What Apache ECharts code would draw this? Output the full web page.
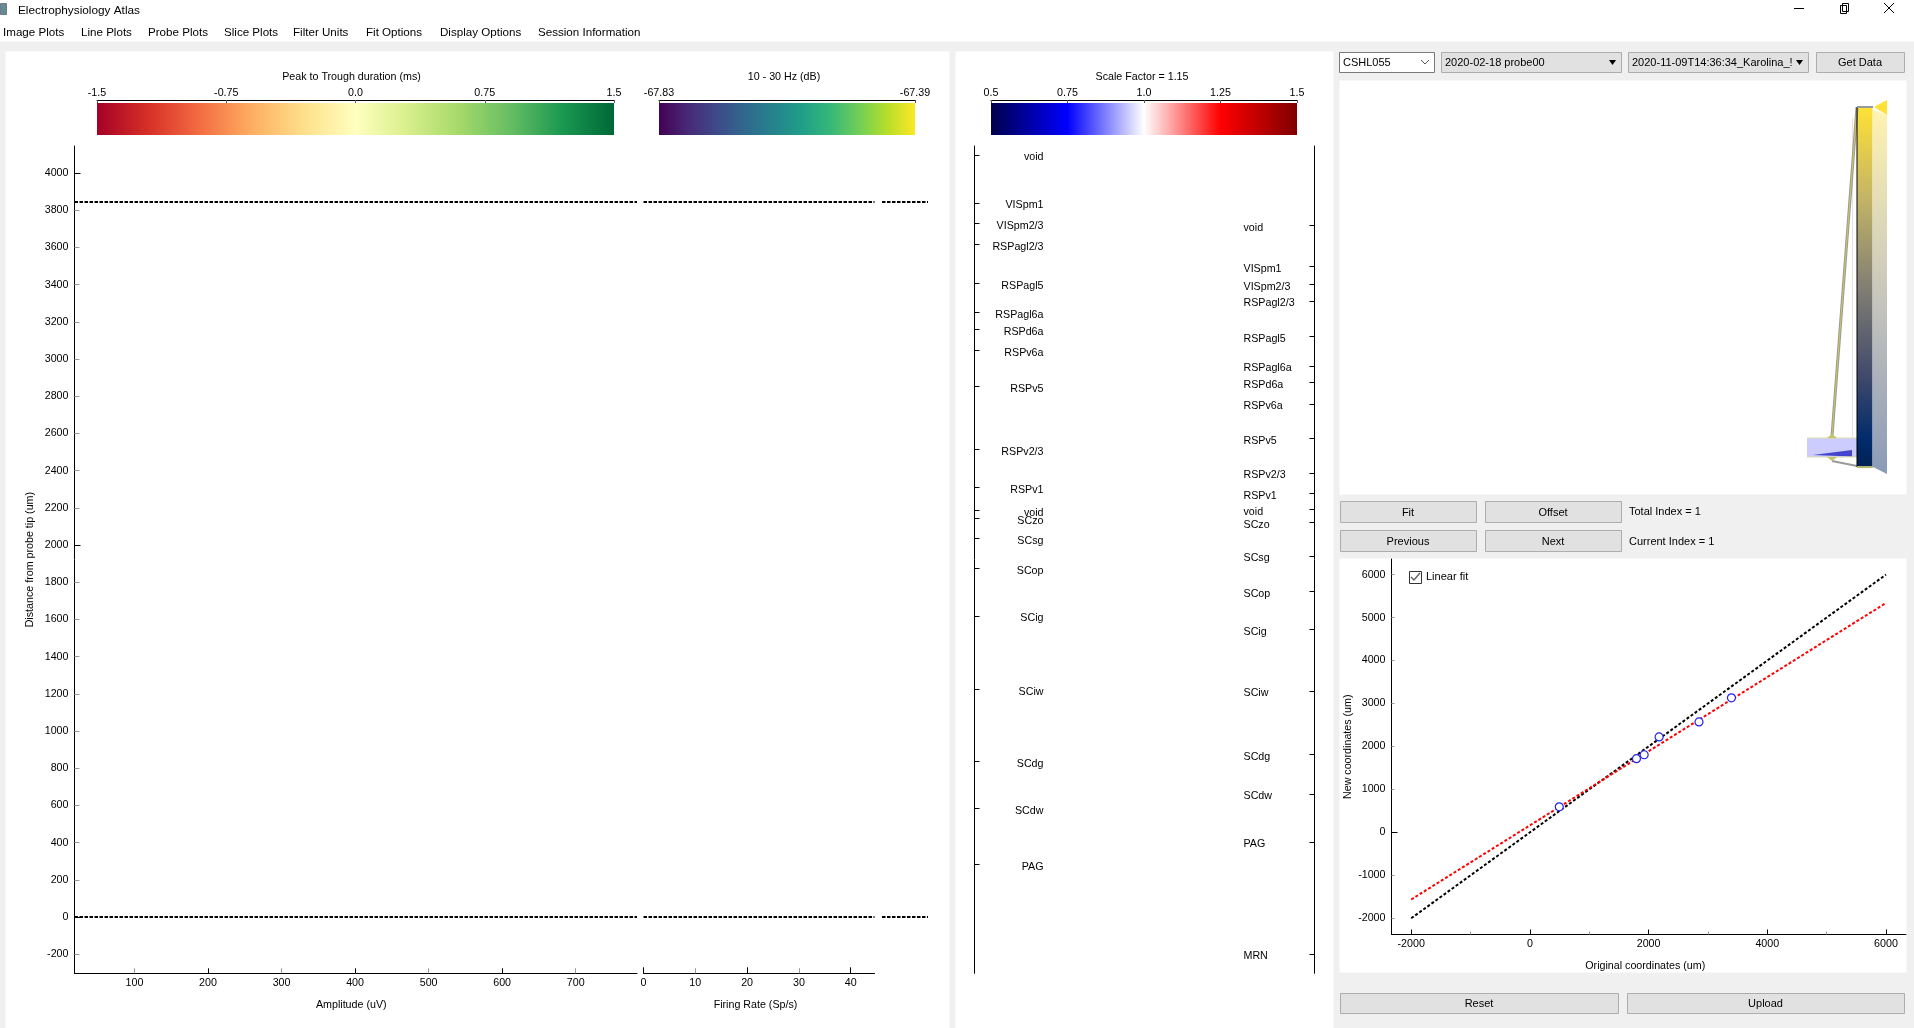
<!DOCTYPE html>
<html>
<head>
<meta charset="utf-8">
<title>Electrophysiology Atlas</title>
<style>
  html, body { margin: 0; padding: 0; background: #f0f0f0; overflow: hidden; }
  #chart { width: 1914px; height: 1028px; }
</style>
<script src="https://cdn.jsdelivr.net/npm/echarts@6/dist/echarts.min.js"></script>
</head>
<body>
<div id="chart"></div>
<script>
  "use strict";
  // colour bar ticks
  var peakTicks = [-1.5, -0.75, 0, 0.75, 1.5];
  var peakTickLabels = ['-1.5', '-0.75', '0.0', '0.75', '1.5'];
  var powerTicks = [-67.83, -67.39];
  var powerTickLabels = ['-67.83', '-67.39'];
  var scaleTicks = [0.5, 0.75, 1, 1.25, 1.5];
  var scaleTickLabels = ['0.5', '0.75', '1.0', '1.25', '1.5'];
  var rdYlGn = ['#a50026', '#d73027', '#f46d43', '#fdae61', '#fee08b', '#ffffbf', '#d9ef8b', '#a6d96a', '#66bd63', '#1a9850', '#006837'];
  var viridis = ['#440154', '#482878', '#3e4989', '#31688e', '#26828e', '#1f9e89', '#35b779', '#6ece58', '#b5de2b', '#fde725'];
  var seismic = ['#00004c', '#0000ff', '#ffffff', '#ff0000', '#7f0000'];

  // depth axis and the two probe ends (dashed lines)
  var depthLabels = [-200, 0, 200, 400, 600, 800, 1000, 1200, 1400, 1600, 1800, 2000, 2200, 2400, 2600, 2800, 3000, 3200, 3400, 3600, 3800, 4000];
  var depthMajor = [0, 2000, 4000];
  var probeEnds = [0, 3844];
  var ampLabels = [100, 200, 300, 400, 500, 600, 700];
  var ampMajor = [200, 400, 600];
  var rateLabels = [0, 10, 20, 30, 40];
  var rateMajor = [0, 20, 40];

  // brain regions, original (left) and scaled (right)
  var origRegions = ['void', 'VISpm1', 'VISpm2/3', 'RSPagl2/3', 'RSPagl5', 'RSPagl6a', 'RSPd6a', 'RSPv6a', 'RSPv5', 'RSPv2/3', 'RSPv1', 'void', 'SCzo', 'SCsg', 'SCop', 'SCig', 'SCiw', 'SCdg', 'SCdw', 'PAG'];
  var origDepths = [4097, 3839, 3730, 3617, 3407, 3249, 3160, 3047, 2853, 2515, 2310, 2187, 2144, 2036, 1875, 1618, 1224, 837, 584, 283];
  var fitRegions = ['void', 'VISpm1', 'VISpm2/3', 'RSPagl2/3', 'RSPagl5', 'RSPagl6a', 'RSPd6a', 'RSPv6a', 'RSPv5', 'RSPv2/3', 'RSPv1', 'void', 'SCzo', 'SCsg', 'SCop', 'SCig', 'SCiw', 'SCdg', 'SCdw', 'PAG', 'MRN'];
  var fitDepths = [3719, 3498, 3402, 3312, 3122, 2962, 2875, 2758, 2574, 2387, 2278, 2192, 2122, 1941, 1751, 1547, 1215, 875, 661, 403, -199];

  // fit plot
  var lineX = [-2000, 6000];
  var identityY = [-2000, 6000];
  var fitY = [-1562, 5339];
  var refX = [495, 1795, 1925, 2177, 2849, 3396];
  var refY = [594, 1716, 1807, 2221, 2570, 3132];
  var fitXLabels = [-2000, 0, 2000, 4000, 6000];
  var fitXMinor = [-1000, 1000, 3000, 5000];
  var fitYLabels = [-2000, -1000, 0, 1000, 2000, 3000, 4000, 5000, 6000];
  var fitYMajor = [0];
  var fitYMinor = [-2000, -1000, 1000, 2000, 3000, 4000, 5000, 6000];

  var FONT = 'Liberation Sans';
  var DEPTH_MIN = -302.7;
  var DEPTH_MAX = 4145;
  var PLOT_TOP = 146;
  var PLOT_H = 827.3;

  var textStyle = { color: '#000', fontFamily: FONT, fontSize: 10.7 };
  var black = { color: '#000', width: 1 };

  function without(list, drop) {
    return list.filter(function (v) { return drop.indexOf(v) < 0; });
  }
  function zip(a, b) {
    return a.map(function (v, i) { return [v, b[i]]; });
  }
  function lookup(values, labels) {
    return function (v) { return labels[values.indexOf(v)]; };
  }
  function plain(v) {
    return String(v);
  }

  function hiddenAxis(gridIndex, min, max) {
    return { show: false, type: 'value', gridIndex: gridIndex, min: min, max: max };
  }

  // colour bar scale sits on top of the bar
  function barAxis(gridIndex, ticks, labels, min, max, title, shift) {
    return {
      type: 'value', gridIndex: gridIndex, position: 'top', offset: 3, min: min, max: max,
      name: title, nameLocation: 'middle', nameGap: 17,
      nameTextStyle: Object.assign({ padding: shift }, textStyle),
      splitLine: { show: false },
      axisLine: { onZero: false, lineStyle: black },
      axisTick: { inside: true, length: 3, customValues: ticks, lineStyle: { color: '#555' } },
      axisLabel: Object.assign({ margin: 1, customValues: ticks, formatter: lookup(ticks, labels), showMinLabel: true, showMaxLabel: true }, textStyle)
    };
  }

  // one axis with labels and the dark ticks
  function tickAxis(position, gridIndex, min, max, labels, major, len) {
    return {
      type: 'value', gridIndex: gridIndex, position: position, min: min, max: max,
      splitLine: { show: false },
      axisLine: { show: true, onZero: false, lineStyle: black },
      axisTick: { show: true, inside: true, length: len, customValues: major, lineStyle: black },
      axisLabel: Object.assign({ margin: 4, customValues: labels, formatter: plain, showMinLabel: true, showMaxLabel: true }, textStyle)
    };
  }

  // same scale again, only for the grey ticks
  function minorAxis(position, gridIndex, min, max, minor, len) {
    return {
      type: 'value', gridIndex: gridIndex, position: position, min: min, max: max,
      splitLine: { show: false },
      axisLine: { show: false, onZero: false },
      axisTick: { show: true, inside: true, length: len, customValues: minor, lineStyle: { color: '#999', width: 1 } },
      axisLabel: { show: false }
    };
  }

  // region names hang slightly below their tick
  function regionAxis(position, values, labels, margin, align) {
    return {
      type: 'value', gridIndex: 6, position: position, min: DEPTH_MIN, max: DEPTH_MAX,
      splitLine: { show: false },
      axisLine: { show: true, onZero: false, lineStyle: black },
      axisTick: { show: true, inside: true, length: 5, customValues: values, lineStyle: black },
      axisLabel: Object.assign({ inside: true, margin: margin, align: align, verticalAlign: 'top', lineHeight: 5, customValues: values, formatter: lookup(values, labels), showMinLabel: true, showMaxLabel: true }, textStyle)
    };
  }

  function colourBar(index, colours, range) {
    var stops = colours.map(function (c, i) { return { offset: i / (colours.length - 1), color: c }; });
    return {
      type: 'custom', xAxisIndex: index, yAxisIndex: index, silent: true,
      data: [range], encode: { x: [0, 1] },
      renderItem: function (params, api) {
        var a = api.coord([api.value(0), 0]);
        var b = api.coord([api.value(1), 1]);
        return {
          type: 'rect',
          shape: { x: a[0], y: b[1], width: b[0] - a[0], height: a[1] - b[1] },
          style: { fill: new echarts.graphic.LinearGradient(0, 0, 1, 0, stops) }
        };
      }
    };
  }

  function probeLines(xIndex, yIndex) {
    return {
      type: 'line', xAxisIndex: xIndex, yAxisIndex: yIndex, data: [], silent: true,
      markLine: {
        silent: true, symbol: 'none', animation: false, label: { show: false },
        lineStyle: { color: '#000', width: 2, type: [3.5, 1.5], opacity: 1 },
        data: probeEnds.map(function (v) { return { yAxis: v }; })
      }
    };
  }

  function fitLine(ys, colour) {
    return {
      type: 'line', xAxisIndex: 9, yAxisIndex: 9, data: zip(lineX, ys), symbol: 'none', silent: true,
      lineStyle: { color: colour, width: 2, type: [3, 2] }
    };
  }

  // window chrome helpers
  function box(x, y, w, h, fill, stroke) {
    return { type: 'rect', z: -5, shape: { x: x + 0.5, y: y + 0.5, width: w, height: h }, style: { fill: fill, stroke: stroke || null, lineWidth: 1 } };
  }
  function txt(x, y, text, align, size) {
    return { type: 'text', z: 5, x: x, y: y + 1, style: { text: text, x: 0, y: 0, fill: '#000', font: (size || 11) + 'px "' + FONT + '"', align: align || 'left', verticalAlign: 'middle' } };
  }
  function button(x, y, w, h, text) {
    return [box(x, y, w, h, '#e1e1e1', '#adadad'), txt(x + w / 2, y + h / 2, text, 'center')];
  }
  function seg(x1, y1, x2, y2, colour, width) {
    return { type: 'line', z: 5, shape: { x1: x1, y1: y1, x2: x2, y2: y2 }, style: { stroke: colour, lineWidth: width || 1 } };
  }
  function poly(points, fill, z) {
    return { type: 'polygon', z: z || 3, shape: { points: points }, style: { fill: fill } };
  }
  function path(points, colour, width) {
    return { type: 'polyline', z: 4, shape: { points: points }, style: { stroke: colour, lineWidth: width, fill: null } };
  }

  var menus = [['Image Plots', 3], ['Line Plots', 81], ['Probe Plots', 148], ['Slice Plots', 224], ['Filter Units', 293], ['Fit Options', 366], ['Display Options', 440], ['Session Information', 538]];

  function vGradient(stops) {
    return new echarts.graphic.LinearGradient(0, 0, 0, 1, stops);
  }

  var chrome = [
    box(-1, -1, 1916, 42, '#fff'),
    box(5, 51, 944, 978, '#fff'),
    box(955, 51, 378, 978, '#fff'),
    box(1339, 80, 567, 414, '#fff'),
    box(1339, 558, 567, 414, '#fff'),
    box(0, 3, 6, 11, '#5f8f93', '#778'),
    txt(18, 10, 'Electrophysiology Atlas', 'left', 11.8),
    seg(1794, 8.5, 1804, 8.5, '#000'),
    { type: 'rect', z: 5, shape: { x: 1840.5, y: 5.5, width: 6, height: 8 }, style: { fill: null, stroke: '#000' } },
    { type: 'rect', z: 5, shape: { x: 1842.5, y: 3.5, width: 6, height: 8 }, style: { fill: null, stroke: '#000' } },
    seg(1884, 3, 1894, 13, '#000'),
    seg(1894, 3, 1884, 13, '#000'),
    // session selectors
    box(1339, 52, 95, 20, '#fff', '#7a7a7a'),
    txt(1343, 62, 'CSHL055'),
    path([[1421, 60], [1425, 64], [1429, 60]], '#555', 1),
    box(1441, 52, 180, 20, '#e1e1e1', '#adadad'),
    txt(1445, 62, '2020-02-18 probe00'),
    poly([[1609, 60], [1616, 60], [1612.5, 65]], '#000', 5),
    box(1628, 52, 180, 20, '#e1e1e1', '#adadad'),
    txt(1632, 62, '2020-11-09T14:36:34_Karolina_!'),
    poly([[1796, 60], [1803, 60], [1799.5, 65]], '#000', 5),
    // linear fit tick box
    box(1409, 571, 12, 12, '#fff', '#333'),
    path([[1411, 577], [1414, 580], [1420, 573]], '#666', 1.5),
    txt(1426, 576, 'Linear fit'),
    txt(1629, 511, 'Total Index = 1'),
    txt(1629, 541, 'Current Index = 1'),
    // probe view
    { type: 'rect', z: 2, shape: { x: 1852, y: 118, width: 1, height: 319 }, style: { fill: '#e4e4e4' } },
    { type: 'rect', z: 3, shape: { x: 1807, y: 438, width: 50, height: 19 }, style: { fill: '#ccccff' } },
    seg(1807, 438, 1857, 438, '#dcdca8'),
    seg(1807, 457, 1857, 457, '#dcdca8'),
    poly([[1813, 455], [1852, 450], [1852, 456.5]], '#4444cc', 4),
    poly([[1873, 110], [1887, 115], [1887, 474], [1873, 467]], vGradient([
      { offset: 0, color: '#fff3b0' }, { offset: 0.5, color: '#c9c7bd' }, { offset: 1, color: '#8a9ab8' }
    ])),
    { type: 'rect', z: 3, shape: { x: 1857, y: 107, width: 15.5, height: 360 }, style: { fill: vGradient([
      { offset: 0, color: '#ffe135' }, { offset: 0.25, color: '#c4b566' }, { offset: 0.5, color: '#827f74' }, { offset: 0.75, color: '#40496b' }, { offset: 0.92, color: '#012c6c' }, { offset: 1, color: '#002255' }
    ]) } },
    seg(1857, 107, 1857, 467, '#000', 1),
    seg(1857, 107, 1873, 107, '#999', 2),
    seg(1857, 467, 1873, 467, '#b5b56e', 2),
    poly([[1874, 107], [1887, 100], [1887, 115]], '#ffe135', 5),
    path([[1857, 107], [1832, 436]], '#9a9a9a', 3),
    path([[1857, 107], [1832, 436]], '#c9c95a', 1),
    path([[1832, 461], [1857, 466]], '#9a9a9a', 2),
    poly([[1832, 434], [1837, 438], [1827, 438]], '#c4c46a', 5),
    poly([[1827, 457], [1837, 457], [1832, 461]], '#c4c46a', 5)
  ];
  menus.forEach(function (m) { chrome.push(txt(m[1], 32, m[0], 'left', 11.6)); });
  chrome = chrome.concat(
    button(1816, 52, 88, 20, 'Get Data'),
    button(1340, 501, 136, 21, 'Fit'),
    button(1485, 501, 136, 21, 'Offset'),
    button(1340, 530, 136, 21, 'Previous'),
    button(1485, 530, 136, 21, 'Next'),
    button(1340, 993, 278, 20, 'Reset'),
    button(1627, 993, 277, 20, 'Upload')
  );

  var depthY = tickAxis('left', 3, DEPTH_MIN, DEPTH_MAX, depthLabels, depthMajor, 6);
  depthY.name = 'Distance from probe tip (um)';
  depthY.nameLocation = 'middle';
  depthY.nameGap = 39;
  depthY.nameTextStyle = textStyle;
  depthY.axisLabel.margin = 6;

  var ampX = tickAxis('bottom', 3, 18.4, 783.4, ampLabels, ampMajor, 5);
  ampX.name = 'Amplitude (uV)';
  ampX.nameLocation = 'middle';
  ampX.nameGap = 26;
  ampX.nameTextStyle = Object.assign({ padding: [0, 9, 0, 0] }, textStyle);

  var rateX = tickAxis('bottom', 4, 0, 44.6, rateLabels, rateMajor, 6);
  rateX.name = 'Firing Rate (Sp/s)';
  rateX.nameLocation = 'middle';
  rateX.nameGap = 26;
  rateX.nameTextStyle = Object.assign({ padding: [0, 7, 0, 0] }, textStyle);

  var fitX = tickAxis('bottom', 7, -2332, 6337, fitXLabels, fitXLabels, 5);
  fitX.name = 'Original coordinates (um)';
  fitX.nameLocation = 'middle';
  fitX.nameGap = 26;
  fitX.nameTextStyle = Object.assign({ padding: [0, 7, 0, 0] }, textStyle);

  var fitYAxis = tickAxis('left', 7, -2377, 6363, fitYLabels, fitYMajor, 6);
  fitYAxis.name = 'New coordinates (um)';
  fitYAxis.nameLocation = 'middle';
  fitYAxis.nameGap = 38;
  fitYAxis.nameTextStyle = textStyle;
  fitYAxis.axisLabel.margin = 6;

  var option = {
    backgroundColor: '#f0f0f0',
    animation: false,
    graphic: { elements: chrome },
    grid: [
      { left: 97, top: 103, width: 517, height: 32 },
      { left: 659, top: 103, width: 256, height: 32 },
      { left: 991, top: 103, width: 306, height: 32 },
      { left: 74.5, top: PLOT_TOP, width: 562.5, height: PLOT_H },
      { left: 643.5, top: PLOT_TOP, width: 231, height: PLOT_H },
      { left: 882, top: PLOT_TOP, width: 46, height: PLOT_H },
      { left: 974.5, top: PLOT_TOP, width: 340, height: PLOT_H },
      { left: 1391.5, top: 559, width: 514.5, height: 375.5 }
    ],
    xAxis: [
      barAxis(0, peakTicks, peakTickLabels, -1.5, 1.5, 'Peak to Trough duration (ms)', [0, 8, 0, 0]),
      barAxis(1, powerTicks, powerTickLabels, -67.83, -67.39, '10 - 30 Hz (dB)', [0, 6, 0, 0]),
      barAxis(2, scaleTicks, scaleTickLabels, 0.5, 1.5, 'Scale Factor = 1.15', [0, 4, 0, 0]),
      ampX,
      minorAxis('bottom', 3, 18.4, 783.4, without(ampLabels, ampMajor), 5),
      rateX,
      minorAxis('bottom', 4, 0, 44.6, without(rateLabels, rateMajor), 5),
      hiddenAxis(5, 0, 1),
      hiddenAxis(6, 0, 1),
      fitX,
      minorAxis('bottom', 7, -2332, 6337, fitXMinor, 3)
    ],
    yAxis: [
      hiddenAxis(0, 0, 1),
      hiddenAxis(1, 0, 1),
      hiddenAxis(2, 0, 1),
      depthY,
      minorAxis('left', 3, DEPTH_MIN, DEPTH_MAX, without(depthLabels, depthMajor), 5),
      hiddenAxis(4, DEPTH_MIN, DEPTH_MAX),
      hiddenAxis(5, DEPTH_MIN, DEPTH_MAX),
      regionAxis('left', origDepths, origRegions, 69, 'right'),
      regionAxis('right', fitDepths, fitRegions, 71, 'left'),
      fitYAxis,
      minorAxis('left', 7, -2377, 6363, fitYMinor, 3)
    ],
    series: [
      colourBar(0, rdYlGn, [-1.5, 1.5]),
      colourBar(1, viridis, [-67.83, -67.39]),
      colourBar(2, seismic, [0.5, 1.5]),
      probeLines(3, 3),
      probeLines(5, 5),
      probeLines(7, 6),
      fitLine(identityY, '#000'),
      fitLine(fitY, '#f00'),
      {
        type: 'scatter', xAxisIndex: 9, yAxisIndex: 9, data: zip(refX, refY), symbol: 'circle', symbolSize: 8, silent: true, z: 5,
        itemStyle: { color: '#fff', borderColor: '#2222ee', borderWidth: 1.2, opacity: 1 }
      }
    ]
  };

  var chart = echarts.init(document.getElementById('chart'), null, { renderer: 'canvas' });
  chart.setOption(option);
</script>
</body>
</html>
